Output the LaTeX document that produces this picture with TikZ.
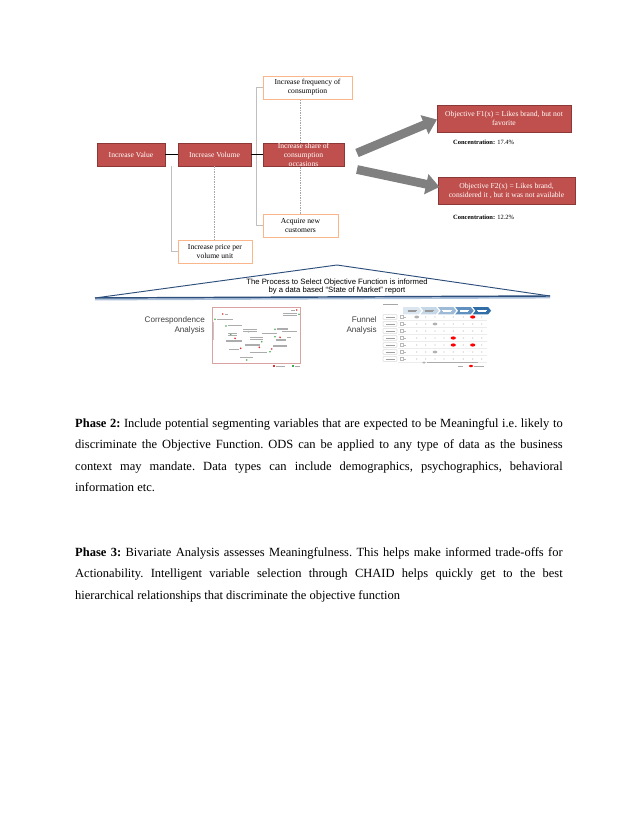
\documentclass[tikz,border=0pt]{standalone}
\usepackage{fontspec}
\setmainfont{Liberation Serif}
\newfontfamily\sansf{Liberation Sans}
\usetikzlibrary{arrows.meta}
\definecolor{redfill}{HTML}{C0504D}
\definecolor{redline}{HTML}{8C3836}
\definecolor{orline}{HTML}{F9B68A}
\definecolor{conn}{HTML}{BFBFBF}
\definecolor{dotc}{HTML}{A6A6A6}
\definecolor{arrowgray}{HTML}{808080}
\definecolor{triblue}{HTML}{2C4F7C}
\definecolor{triglow}{HTML}{A9BFDA}
\definecolor{chartred}{HTML}{D9A3A3}
\definecolor{ptred}{HTML}{E0302F}
\definecolor{ptgreen}{HTML}{3DAA4A}
\definecolor{chevA}{HTML}{DCE6F0}
\definecolor{chevB}{HTML}{C6D7E8}
\definecolor{chevC}{HTML}{9DBAD6}
\definecolor{chevD}{HTML}{5F90C0}
\definecolor{chevE}{HTML}{2F6EA6}
\definecolor{labgray}{HTML}{404040}
\begin{document}
\begin{tikzpicture}[x=0.96pt,y=-0.96pt,
  boxfont/.style={font=\fontsize{7.3pt}{8.6pt}\selectfont},
  redbox/.style={boxfont, draw=redline, fill=redfill, text=white, align=center, inner sep=0pt, line width=0.5pt, minimum height=22.1pt},
  obox/.style={boxfont, draw=orline, fill=white, align=center, inner sep=0pt, line width=0.7pt, minimum height=22.1pt},
  conline/.style={conn, line width=0.6pt},
  dotline/.style={dotc, line width=0.6pt, dash pattern=on 1.2pt off 1.2pt},
  blockarrow/.style={arrowgray, line width=8.4pt, -{Triangle[length=13pt,width=19pt]}},
  conc/.style={anchor=west, inner sep=0pt, font=\fontsize{6.2pt}{7pt}\selectfont},
  sidelabel/.style={anchor=east, align=right, inner sep=0pt, text=labgray, font=\sansf\fontsize{7.8pt}{9.6pt}\selectfont},
  tinybar/.style={gray!65, line width=0.45pt},
  para/.style={anchor=base west, inner sep=0pt}
]
\useasboundingbox (0,0) rectangle (638,826);

% ---- nodes of the tree
\coordinate (e1) at (171,166);
\node[redbox, minimum width=65.3pt] (val) at (131,154.5) {Increase Value};
\node[redbox, minimum width=70.1pt] (vol) at (214.5,154.5) {Increase Volume};
\node[obox, minimum width=85.4pt] (freq) at (307.5,87.5) {Increase frequency of\\consumption};
\node[obox, minimum width=72pt] (acq) at (300.5,225.5) {Acquire new\\customers};
\node[obox, minimum width=71pt] (price) at (215,251.5) {Increase price per\\volume unit};

% connectors (under the boxes)
\draw[conline] (freq.west) -- ++(-6,0) |- (acq.west);
\draw[conline] (e1) |- (price.west);
\draw[dotline] (vol.south) -- (vol.south |- price.north);
\draw[dotline] (acq.north) -- (acq.north |- freq.south);

\node[redbox, minimum width=77.8pt] (share) at (303.5,154.5) {};
\node[boxfont, text=white, align=center, inner sep=0pt] (sharetxt) at (share.center) {Increase share of\\consumption\\occasions};

\draw[black, line width=1.2pt] (val) -- (vol);
\draw[black, line width=1.2pt] (vol) -- (share);

% objective boxes
\node[redbox, minimum width=128.6pt, minimum height=25.9pt] (f1) at (504,118.5) {Objective F1(x) = Likes brand, but not\\favorite};
\node[redbox, minimum width=131.5pt, minimum height=25.9pt] (f2) at (506.5,191) {Objective F2(x) = Likes brand,\\considered it , but it was not available};
\node[conc] (c1) at (453,142) {\textbf{Concentration:} 17.4\%};
\node[conc] (c2) at (453,217) {\textbf{Concentration:} 12.2\%};

% block arrows
\coordinate (a1s) at (357,153);
\coordinate (a1e) at (437,119.5);
\coordinate (a2s) at (357,169.5);
\coordinate (a2e) at (439.5,187);
\draw[blockarrow] (a1s) -- (a1e);
\draw[blockarrow] (a2s) -- (a2e);

% ---- triangle
\coordinate (tl) at (95,298);
\coordinate (tp) at (337,265);
\coordinate (tr) at (550,296);
\fill[white] (tl) -- (tp) -- (tr) -- cycle;
\draw[triglow, line width=1.6pt] (95,299.6) -- (550,297.6);
\draw[triblue, line width=0.9pt, line join=round] (tl) -- (tp) -- (tr);
\draw[triblue, line width=1.4pt] (tl) -- (tr);
\node[align=center, inner sep=0pt, font=\sansf\fontsize{7.4pt}{8pt}\selectfont] (tri) at (337,286.5)
  {The Process to Select Objective Function is informed\\by a data based “State of Market” report};

% ---- correspondence analysis
\node[sidelabel] (corr) at (205,325) {Correspondence\\Analysis};
\node[draw=chartred, line width=0.5pt, minimum width=84.5pt, minimum height=53.8pt, inner sep=0pt] (chart) at (256,335) {};
\draw[gray!45, line width=0.6pt] (213.6,322) -- (213.6,340);
% red points
\foreach \px/\py in {222.7/314, 296.7/310, 235/338.3, 240.7/348.3, 259.3/347.3, 280/337.3, 271.7/349}
  \fill[ptred] (\px,\py) circle (0.95);
% green points
\foreach \px/\py in {215/319.3, 299/314.3, 226/326, 230.7/334.3, 248.3/331.7, 261.7/341.7, 275/329.3, 275/336.7, 270/351.7, 246.7/360}
  \fill[ptgreen] (\px,\py) circle (0.85);
% label bars
\foreach \xa/\xb/\yy in {224.5/228/314, 217/233/319.3, 291/295/310, 282.7/296.7/313.2, 282.7/296.7/315.4,
  227.5/241.7/325.7, 228.3/236.7/333.6, 228.3/236.7/335, 226/241.7/340, 226/241.7/341.7, 229/239/349,
  243/256.7/329.7, 243/256.7/331, 250/263.3/337.7, 250/263.3/339.3, 245/260/344.3, 245/260/345.7,
  261.7/276.7/333.3, 276.5/288.3/328.3, 276.5/288.3/329.7, 281.7/296.7/331.7, 276/286/339, 276/286/340.7,
  273/286.7/345, 273/286.7/346.3, 250/266.7/352.3, 240/253.3/357.7, 287/291/337}
  \draw[tinybar] (\xa,\yy) -- (\xb,\yy);
% legend
\fill[ptred] (273.3,365) rectangle (275.3,367);
\draw[tinybar] (276,366) -- (285,366);
\fill[ptgreen] (292.3,365) rectangle (294.3,367);
\draw[tinybar] (295,366) -- (300,366);

% ---- funnel analysis
\node[sidelabel] (fun) at (377,325) {Funnel\\Analysis};
\draw[gray!70, line width=0.6pt] (383,304) -- (398,304);
\fill[chevA] (403,307) -- (418.5,307) -- (421.5,310.7) -- (418.5,314.4) -- (403,314.4) -- cycle;
\foreach \i/\c in {1/chevB,2/chevC,3/chevD,4/chevE}{
  \pgfmathsetmacro{\xo}{403+17.4*\i}
  \fill[\c] (\xo,307) -- (\xo+15.5,307) -- (\xo+18.5,310.7) -- (\xo+15.5,314.4) -- (\xo,314.4) -- (\xo+3,310.7) -- cycle;
}
\foreach \i/\c in {0/gray!80,1/gray!80,2/white,3/white,4/white}{
  \pgfmathsetmacro{\xo}{403+17.4*\i}
  \draw[\c, line width=0.4pt] (\xo+4.5,309.9) -- (\xo+14,309.9);
  \draw[\c, line width=0.4pt] (\xo+5,311.6) -- (\xo+13,311.6);
}
\foreach \r in {0,...,6}{
  \pgfmathsetmacro{\yy}{317+7*\r}
  \draw[gray!15, line width=0.3pt] (398,\yy+3.5) -- (487,\yy+3.5);
  \draw[gray!55, line width=0.35pt, fill=white, rounded corners=0.6pt] (383,\yy-2.2) rectangle (397,\yy+2.2);
  \draw[gray!75, line width=0.5pt] (385.5,\yy) -- (394.5,\yy);
  \draw[gray!55, line width=0.35pt] (400,\yy-1.4) rectangle (402.8,\yy+1.4);
  \draw[gray!55, line width=0.35pt] (403.5,\yy) -- (406,\yy);
  \foreach \cx in {416.7,425.7,435,444,453.3,463.3,472.7,481.7}
    \fill[gray!55] (\cx,\yy) circle (0.6);
}
\fill[gray!60] (416.7,317) ellipse (2.4 and 1.4);
\fill[gray!60] (435,324) ellipse (2.4 and 1.4);
\fill[gray!60] (435,352) ellipse (2.4 and 1.4);
\fill[red] (472.7,317) ellipse (2.6 and 1.6);
\fill[red] (453.3,338) ellipse (2.6 and 1.6);
\fill[red] (453.3,345) ellipse (2.6 and 1.6);
\fill[red] (472.7,345) ellipse (2.6 and 1.6);
\fill[gray!60] (424,362.6) ellipse (1.8 and 1.1);
\draw[tinybar] (427,362.6) -- (478,362.6);
\draw[tinybar] (458,366) -- (463,366);
\fill[red] (471,366) ellipse (2 and 1.2);
\draw[tinybar] (474,366) -- (484,366);

% ---- paragraphs
\node[para] (p2) at (75,427) {\begin{minipage}[t]{468pt}\fontsize{12pt}{20.64pt}\selectfont\frenchspacing
\textbf{Phase 2:} Include potential segmenting variables that are expected to be Meaningful i.e. likely to\linebreak
discriminate the Objective Function. ODS can be applied to any type of data as the business\linebreak
context may mandate. Data types can include demographics, psychographics, behavioral\linebreak
information etc.\end{minipage}};
\node[para] (p3) at (75,556) {\begin{minipage}[t]{468pt}\fontsize{12pt}{20.64pt}\selectfont\frenchspacing
\textbf{Phase 3:} Bivariate Analysis assesses Meaningfulness. This helps make informed trade-offs for\linebreak
Actionability. Intelligent variable selection through CHAID helps quickly get to the best\linebreak
hierarchical relationships that discriminate the objective function\end{minipage}};
\end{tikzpicture}
\end{document}
